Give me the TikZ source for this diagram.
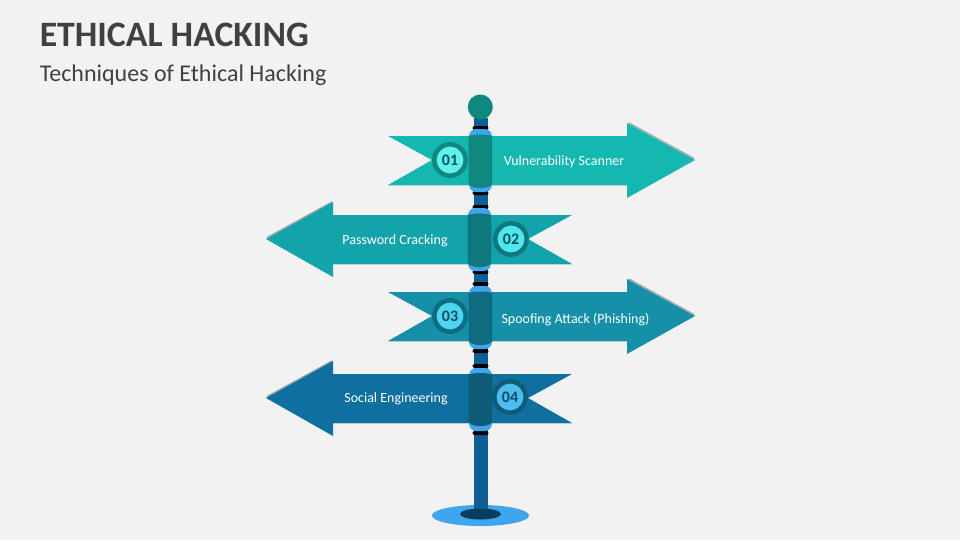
\documentclass[tikz,border=0pt]{standalone}
\usepackage{fontspec}
\setmainfont{Carlito}
\definecolor{pagegray}{HTML}{F2F2F2}
\definecolor{titlegray}{HTML}{404040}
\definecolor{poleblue}{HTML}{0F5F96}
\definecolor{collarblue}{HTML}{3FA5EC}
\definecolor{signa}{HTML}{14B8B0}
\definecolor{signb}{HTML}{12A3AB}
\definecolor{signc}{HTML}{1590A8}
\definecolor{signd}{HTML}{0F6F9F}
\definecolor{banda}{HTML}{0F8880}
\definecolor{bandb}{HTML}{0E787C}
\definecolor{bandc}{HTML}{0F6C80}
\definecolor{bandd}{HTML}{0F5C78}
\definecolor{dota}{HTML}{5FF0E8}
\definecolor{dotb}{HTML}{50E6F0}
\definecolor{dotc}{HTML}{4DD5F0}
\definecolor{dotd}{HTML}{4DBDF0}
\definecolor{numdark}{HTML}{0C4F60}
\tikzset{
  headshade/.style = {draw=black!60, line width=1pt, opacity=0.55},
  bandshade/.style = {draw=black!30, line width=0.6pt, opacity=0.4},
  ringbar/.style = {fill=black, rounded corners=1pt},
  collar/.style = {fill=collarblue, rounded corners=5.5pt},
  badge/.style = {circle, draw, line width=3.4pt, minimum size=23.5pt, inner sep=0pt, text=numdark, font=\fontsize{12}{12}\selectfont\bfseries},
  signtext/.style = {text=white, font=\fontsize{10.5}{10.5}\selectfont}
}
\begin{document}
\begin{tikzpicture}[x=0.75pt, y=-0.75pt]
  \useasboundingbox (0,0) rectangle (960,540);
  \fill [pagegray] (0,0) rectangle (960,540);

  \node [text=titlegray, font=\fontsize{26.8}{26.8}\selectfont\bfseries, anchor=west, inner sep=0pt] (title) at (39.5,35) {ETHICAL HACKING};
  \node [text=titlegray, font=\fontsize{18}{18}\selectfont, anchor=west, inner sep=0pt] (subtitle) at (39.5,75) {Techniques of Ethical Hacking};

  % base and pole
  \fill [collarblue] (480.5,515.5) ellipse [x radius=48.5, y radius=10.5];
  \fill [poleblue] (473.5,118) rectangle (487.5,512);
  \fill [poleblue!65!black] (480.5,514) ellipse [x radius=20.5, y radius=5.5];

  % soft edges under the signs
  \draw [headshade] (629,123) -- (694,158.5);
  \draw [bandshade] (388,185.8) -- (627,185.8);
  \draw [headshade] (332,202) -- (267,237.5);
  \draw [bandshade] (333,264.8) -- (572,264.8);
  \draw [headshade] (629,279) -- (694,314.5);
  \draw [bandshade] (388,341.8) -- (627,341.8);
  \draw [headshade] (332,361) -- (267,396.5);
  \draw [bandshade] (333,423.8) -- (572,423.8);

  % signs
  \fill [signa] (388,136) -- (627,136) -- (627,123) -- (695,160) -- (627,198) -- (627,185) -- (388,185) -- (432,160) -- cycle;
  \fill [signb] (572,215) -- (333,215) -- (333,202) -- (266,239) -- (333,277) -- (333,264) -- (572,264) -- (528,239) -- cycle;
  \fill [signc] (388,292) -- (627,292) -- (627,279) -- (695,316) -- (627,354) -- (627,341) -- (388,341) -- (432,316) -- cycle;
  \fill [signd] (572,374) -- (333,374) -- (333,361) -- (266,398) -- (333,436) -- (333,423) -- (572,423) -- (528,398) -- cycle;

  % rings on the pole
  \foreach \ringy in {128,193,207,272,284,351,366,433} {
    \fill [ringbar] (472.7,\ringy-2) rectangle (488.3,\ringy+2);
  }

  % collars
  \fill [collar] (469,129) rectangle (492,192);
  \fill [banda] (468.6,136) .. controls (475,134) and (486,134) .. (492.4,136) -- (492.4,184) .. controls (489,189.5) and (472,189.5) .. (468.6,184) -- cycle;
  \fill [collar] (468,208) rectangle (491,271);
  \fill [bandb] (467.6,215) .. controls (474,213) and (485,213) .. (491.4,215) -- (491.4,263) .. controls (488,268.5) and (471,268.5) .. (467.6,263) -- cycle;
  \fill [collar] (469,286) rectangle (492,349);
  \fill [bandc] (468.6,293) .. controls (475,291) and (486,291) .. (492.4,293) -- (492.4,341) .. controls (489,346.5) and (472,346.5) .. (468.6,341) -- cycle;
  \fill [collar] (469,368) rectangle (492,431);
  \fill [bandd] (468.6,374.5) .. controls (475,372.5) and (486,372.5) .. (492.4,374.5) -- (492.4,422) .. controls (489,427.5) and (472,427.5) .. (468.6,422) -- cycle;

  \fill [banda] (480.3,107) circle [radius=12.5];

  % badges and labels
  \node [badge, draw=banda, fill=dota] (badgea) at (450,160) {01};
  \node [badge, draw=bandb, fill=dotb] (badgeb) at (511,239) {02};
  \node [badge, draw=bandc, fill=dotc] (badgec) at (450,316) {03};
  \node [badge, draw=bandd, fill=dotd] (badged) at (510,397) {04};

  \node [signtext] (labela) at (564,161.5) {Vulnerability Scanner};
  \node [signtext] (labelb) at (395,240.5) {Password Cracking};
  \node [signtext] (labelc) at (575.5,319.5) {Spoofing Attack (Phishing)};
  \node [signtext] (labeld) at (396,398.5) {Social Engineering};
\end{tikzpicture}
\end{document}
